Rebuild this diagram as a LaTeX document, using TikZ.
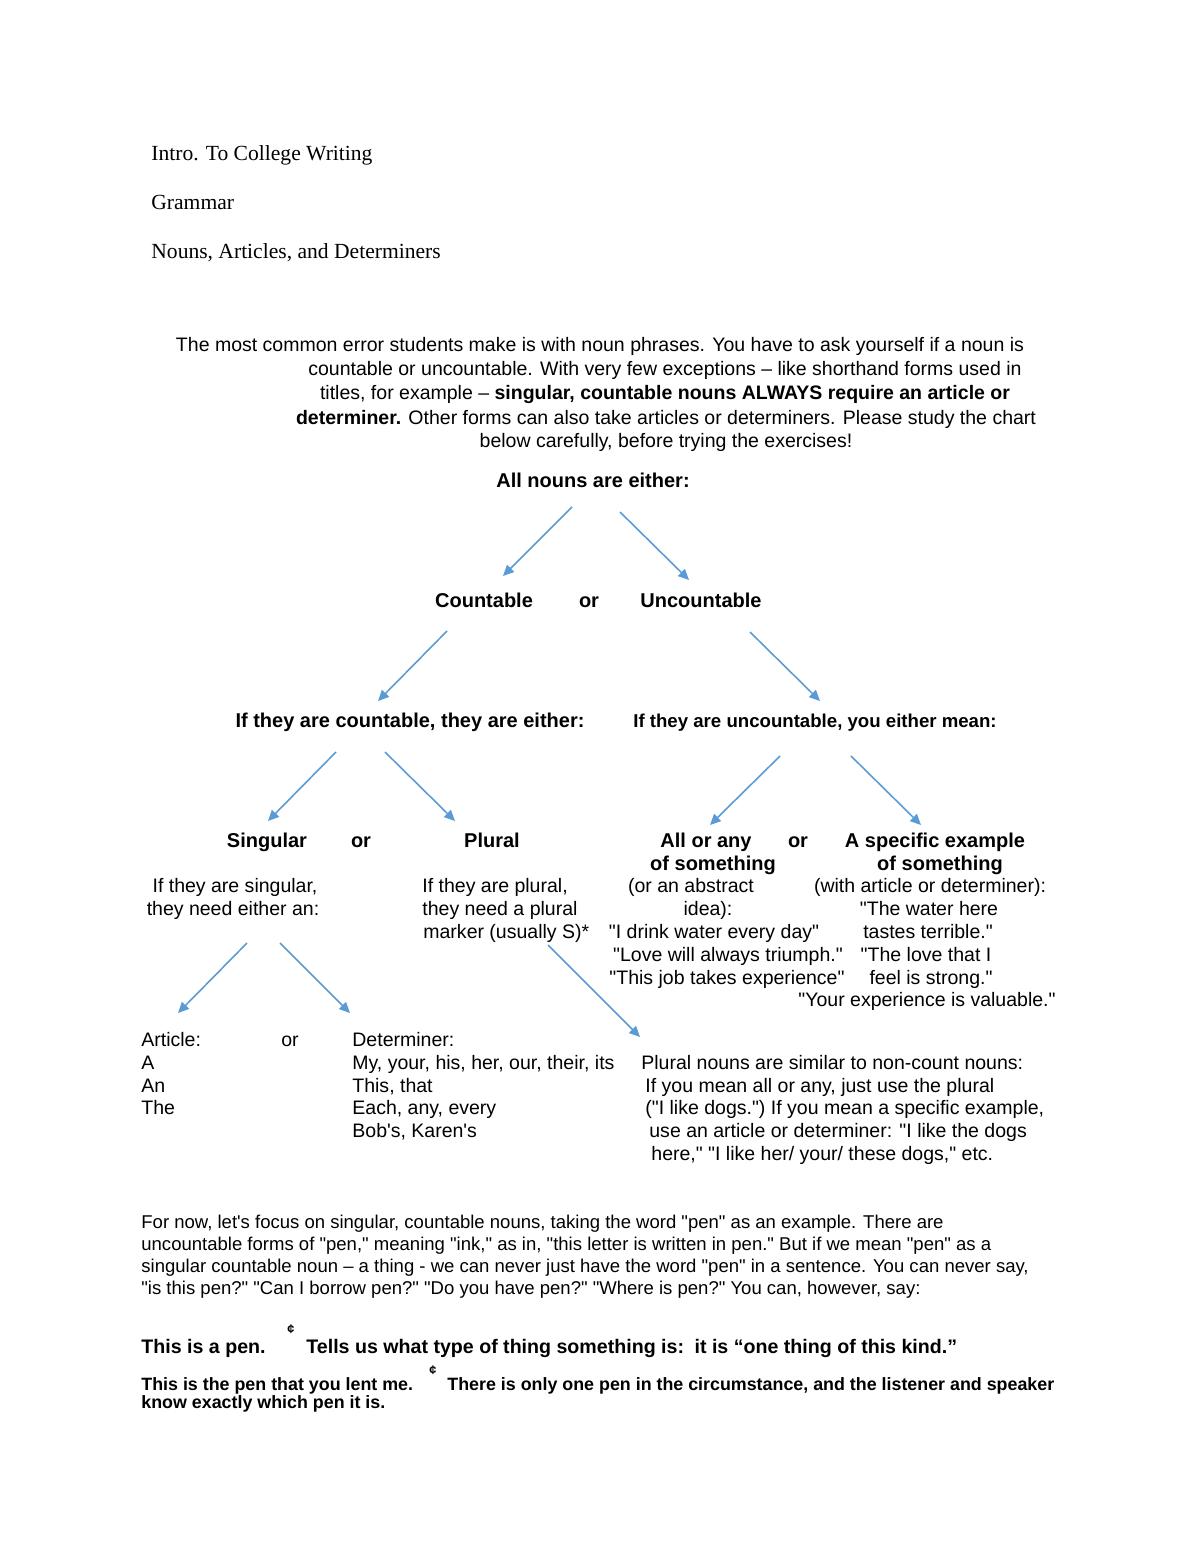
\documentclass[tikz,border=0pt]{standalone}
\usepackage{fontspec}
\setmainfont{Liberation Sans}[Ligatures=TeXOff]
\newfontfamily\hdrfont{Liberation Serif}
\usetikzlibrary{arrows.meta}
\definecolor{arrowblue}{HTML}{5B9BD5}
\newcommand{\qq}{{\char"22}}
\newcommand{\ap}{{\char"27}}
\tikzset{
  txt/.style={inner sep=0pt, anchor=base, font=\fontsize{9.95}{12}\selectfont},
  txtl/.style={txt, anchor=base west},
  par/.style={inner sep=0pt, anchor=base west, font=\fontsize{9.45}{11}\selectfont},
  bld/.style={inner sep=0pt, anchor=base, font=\fontsize{10.2}{12}\selectfont\bfseries},
  bldn/.style={bld, font=\fontsize{9.5}{12}\selectfont\bfseries},
  hdr/.style={inner sep=0pt, anchor=base west, font=\hdrfont\fontsize{11}{13}\selectfont},
  pen/.style={inner sep=0pt, anchor=base west, font=\fontsize{10}{12}\selectfont\bfseries},
  penn/.style={pen, font=\fontsize{9.1}{11}\selectfont\bfseries},
  tiny/.style={inner sep=0pt, anchor=base, font=\fontsize{6.5}{7}\selectfont\bfseries},
  arr/.style={draw=arrowblue, line width=0.8pt, -{Triangle[length=5.5pt,width=5pt]}},
}
\begin{document}
\begin{tikzpicture}[x=0.51pt,y=-0.51pt]
\useasboundingbox[fill=white] (0,0) rectangle (1200,1553);

% header
\node[hdr] (h1) at (151,161) {Intro. To College Writing};
\node[hdr] (h2) at (151,210) {Grammar};
\node[hdr] (h3) at (151,258) {Nouns, Articles, and Determiners};

% intro paragraph
\node[txt] (p1) at (600,351) {The most common error students make is with noun phrases. You have to ask yourself if a noun is};
\node[txt] (p2) at (665,375) {countable or uncountable. With very few exceptions – like shorthand forms used in};
\node[txt] (p3) at (665,399) {titles, for example – \textbf{singular, countable nouns ALWAYS require an article or}};
\node[txt] (p4) at (666,424) {\textbf{determiner.} Other forms can also take articles or determiners. Please study the chart};
\node[txt] (p5) at (666,447) {below carefully, before trying the exercises!};

% tree
\node[bld] (all) at (593,487) {All nouns are either:};
\node[bld] (cnt) at (484,607) {Countable};
\node[bld] (or1) at (589,607) {or};
\node[bld] (unc) at (701,607) {Uncountable};
\node[bld] (ifc) at (410,727) {If they are countable, they are either:};
\node[bldn] (ifu) at (815,727) {If they are uncountable, you either mean:};
\node[bld] (sing) at (267,847) {Singular};
\node[bld] (or2) at (361,847) {or};
\node[bld] (plur) at (492,847) {Plural};
\node[bld] (aoa) at (706,847) {All or any};
\node[bld] (aoa2) at (713,870) {of something};
\node[bld] (or3) at (798,847) {or};
\node[bld] (spe) at (935,847) {A specific example};
\node[bld] (spe2) at (940,870) {of something};

\node[txt] (s1) at (235,892) {If they are singular,};
\node[txt] (s2) at (233,915) {they need either an:};
\node[txtl] (pl1) at (422,892) {If they are plural,};
\node[txtl] (pl2) at (422,915) {they need a plural};
\node[txtl] (pl3) at (423,938) {marker (usually S)*};

\node[txt] (a1) at (691,892) {(or an abstract};
\node[txt] (a2) at (708,915) {idea):};
\node[txt] (a3) at (714,938) {\qq I drink water every day\qq};
\node[txt] (a4) at (728,961) {\qq Love will always triumph.\qq};
\node[txt] (a5) at (727,984) {\qq This job takes experience\qq};

\node[txt] (e1) at (930,892) {(with article or determiner):};
\node[txt] (e2) at (929,915) {\qq The water here};
\node[txt] (e3) at (928,938) {tastes terrible.\qq};
\node[txt] (e4) at (926,961) {\qq The love that I};
\node[txt] (e5) at (931,984) {feel is strong.\qq};
\node[txt] (e6) at (927,1006) {\qq Your experience is valuable.\qq};

\node[txtl] (art) at (141,1046) {Article:};
\node[txtl] (or4) at (281,1046) {or};
\node[txtl] (det) at (352,1046) {Determiner:};
\node[txtl] (ar1) at (141,1069) {A};
\node[txtl] (ar2) at (141,1092) {An};
\node[txtl] (ar3) at (141,1114) {The};
\node[txtl] (d1) at (352,1069) {My, your, his, her, our, their, its};
\node[txtl] (d2) at (352,1092) {This, that};
\node[txtl] (d3) at (352,1114) {Each, any, every};
\node[txtl] (d4) at (352,1137) {Bob\ap s, Karen\ap s};

\node[txtl] (r1) at (641,1069) {Plural nouns are similar to non-count nouns:};
\node[txtl] (r2) at (645,1092) {If you mean all or any, just use the plural};
\node[txtl] (r3) at (645,1114) {(\qq I like dogs.\qq) If you mean a specific example,};
\node[txtl] (r4) at (649,1137) {use an article or determiner: \qq I like the dogs};
\node[txtl] (r5) at (651,1160) {here,\qq\ \qq I like her/ your/ these dogs,\qq\ etc.};

% closing paragraph
\node[par] (q1) at (141,1228) {For now, let\ap s focus on singular, countable nouns, taking the word \qq pen\qq\ as an example. There are};
\node[par] (q2) at (141,1250) {uncountable forms of \qq pen,\qq\ meaning \qq ink,\qq\ as in, \qq this letter is written in pen.\qq\ But if we mean \qq pen\qq\ as a};
\node[par] (q3) at (141,1272) {singular countable noun – a thing - we can never just have the word \qq pen\qq\ in a sentence. You can never say,};
\node[par] (q4) at (141,1294) {\qq is this pen?\qq\ \qq Can I borrow pen?\qq\ \qq Do you have pen?\qq\ \qq Where is pen?\qq\ You can, however, say:};

\node[pen] (b1) at (141,1353) {This is a pen.};
\node[tiny] (g1) at (291,1333) {¢};
\node[pen] (b2) at (306,1353) {Tells us what type of thing something is:\, it is “one thing of this kind.”};
\node[penn] (b3) at (141,1390) {This is the pen that you lent me.};
\node[tiny] (g2) at (433,1374) {¢};
\node[penn] (b4) at (447,1390) {There is only one pen in the circumstance, and the listener and speaker};
\node[penn] (b5) at (141,1408) {know exactly which pen it is.};

% arrow endpoints
\coordinate (A1s) at (572,507); \coordinate (A1e) at (503,576);
\coordinate (A2s) at (620,512); \coordinate (A2e) at (689,580);
\coordinate (A3s) at (447,631); \coordinate (A3e) at (378,701);
\coordinate (A4s) at (750,632); \coordinate (A4e) at (820,701);
\coordinate (A5s) at (336,752); \coordinate (A5e) at (268,821);
\coordinate (A6s) at (385,752); \coordinate (A6e) at (455,821);
\coordinate (A7s) at (780,756); \coordinate (A7e) at (710,825);
\coordinate (A8s) at (851,756); \coordinate (A8e) at (921,825);
\coordinate (A9s) at (247,943); \coordinate (A9e) at (178,1013);
\coordinate (A10s) at (280,943); \coordinate (A10e) at (350,1013);
\coordinate (A11s) at (548,945); \coordinate (A11e) at (640,1037);
\foreach \i in {1,...,11} { \draw[arr] (A\i s) -- (A\i e); }
\end{tikzpicture}
\end{document}
